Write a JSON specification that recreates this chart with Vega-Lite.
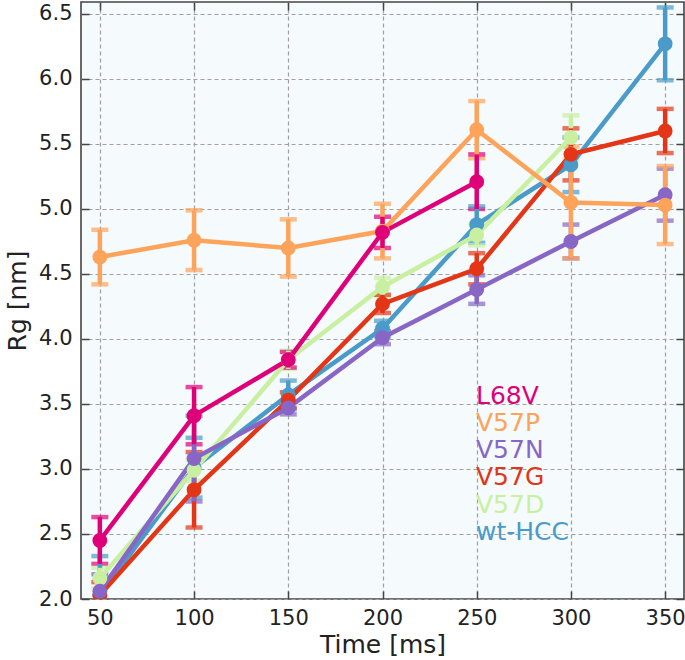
{
  "$schema": "https://vega.github.io/schema/vega-lite/v6.json",
  "description": "Radius of gyration over time for wt-HCC and five variants.",
  "width": 603,
  "height": 597,
  "autosize": {"type": "none"},
  "padding": {"left": 81, "top": 2, "right": 1, "bottom": 61},
  "background": "white",
  "data": {
    "values": [
      {"series": "wt-HCC", "time": 50, "rg": 2.03, "err": 0.30},
      {"series": "wt-HCC", "time": 100, "rg": 3.01, "err": 0.23},
      {"series": "wt-HCC", "time": 150, "rg": 3.57, "err": 0.11},
      {"series": "wt-HCC", "time": 200, "rg": 4.08, "err": 0.06},
      {"series": "wt-HCC", "time": 250, "rg": 4.88, "err": 0.14},
      {"series": "wt-HCC", "time": 300, "rg": 5.34, "err": 0.21},
      {"series": "wt-HCC", "time": 350, "rg": 6.27, "err": 0.28},
      {"series": "V57D", "time": 50, "rg": 2.16, "err": 0.08},
      {"series": "V57D", "time": 100, "rg": 2.99, "err": 0.08},
      {"series": "V57D", "time": 150, "rg": 3.84, "err": 0.07},
      {"series": "V57D", "time": 200, "rg": 4.40, "err": 0.07},
      {"series": "V57D", "time": 250, "rg": 4.80, "err": 0.08},
      {"series": "V57D", "time": 300, "rg": 5.55, "err": 0.17},
      {"series": "V57G", "time": 50, "rg": 2.03, "err": 0.10},
      {"series": "V57G", "time": 100, "rg": 2.84, "err": 0.29},
      {"series": "V57G", "time": 150, "rg": 3.53, "err": 0.06},
      {"series": "V57G", "time": 200, "rg": 4.27, "err": 0.07},
      {"series": "V57G", "time": 250, "rg": 4.54, "err": 0.12},
      {"series": "V57G", "time": 300, "rg": 5.42, "err": 0.20},
      {"series": "V57G", "time": 350, "rg": 5.60, "err": 0.17},
      {"series": "V57N", "time": 50, "rg": 2.06, "err": 0.13},
      {"series": "V57N", "time": 100, "rg": 3.08, "err": 0.33},
      {"series": "V57N", "time": 150, "rg": 3.47, "err": 0.05},
      {"series": "V57N", "time": 200, "rg": 4.01, "err": 0.05},
      {"series": "V57N", "time": 250, "rg": 4.38, "err": 0.11},
      {"series": "V57N", "time": 300, "rg": 4.75, "err": 0.13},
      {"series": "V57N", "time": 350, "rg": 5.11, "err": 0.20},
      {"series": "V57P", "time": 50, "rg": 4.63, "err": 0.21},
      {"series": "V57P", "time": 100, "rg": 4.76, "err": 0.23},
      {"series": "V57P", "time": 150, "rg": 4.70, "err": 0.22},
      {"series": "V57P", "time": 200, "rg": 4.83, "err": 0.21},
      {"series": "V57P", "time": 250, "rg": 5.61, "err": 0.22},
      {"series": "V57P", "time": 300, "rg": 5.05, "err": 0.43},
      {"series": "V57P", "time": 350, "rg": 5.03, "err": 0.30},
      {"series": "L68V", "time": 50, "rg": 2.45, "err": 0.18},
      {"series": "L68V", "time": 100, "rg": 3.41, "err": 0.22},
      {"series": "L68V", "time": 150, "rg": 3.84, "err": 0.06},
      {"series": "L68V", "time": 200, "rg": 4.82, "err": 0.12},
      {"series": "L68V", "time": 250, "rg": 5.21, "err": 0.21}
    ]
  },
  "layer": [
    {
      "mark": {
        "type": "errorbar",
        "clip": true,
        "ticks": {"size": 17, "thickness": 4.5},
        "rule": {"strokeWidth": 4.5}
      },
      "encoding": {
        "x": {
          "field": "time", "type": "quantitative",
          "scale": {"domain": [40, 360], "nice": false, "zero": false},
          "axis": {"title": "Time [ms]", "values": [50, 100, 150, 200, 250, 300, 350], "grid": true, "labelPadding": 16, "titlePadding": 4}
        },
        "y": {
          "field": "rg", "type": "quantitative",
          "scale": {"domain": [2.0, 6.592], "nice": false, "zero": false},
          "axis": {"title": "Rg [nm]", "values": [2.0, 2.5, 3.0, 3.5, 4.0, 4.5, 5.0, 5.5, 6.0, 6.5], "format": ".1f", "grid": true, "labelPadding": 17, "titlePadding": 8}
        },
        "yError": {"field": "err"},
        "color": {"field": "series", "type": "nominal"}
      }
    },
    {
      "mark": {"type": "line", "strokeWidth": 4.5, "clip": true},
      "encoding": {
        "x": {
          "field": "time", "type": "quantitative",
          "scale": {"domain": [40, 360], "nice": false, "zero": false},
          "axis": {"orient": "top", "labels": false, "title": null, "grid": false, "values": [50, 100, 150, 200, 250, 300, 350]}
        },
        "y": {
          "field": "rg", "type": "quantitative",
          "scale": {"domain": [2.0, 6.592], "nice": false, "zero": false},
          "axis": {"orient": "right", "labels": false, "title": null, "grid": false, "values": [2.0, 2.5, 3.0, 3.5, 4.0, 4.5, 5.0, 5.5, 6.0, 6.5]}
        },
        "color": {"field": "series", "type": "nominal"}
      }
    },
    {
      "mark": {"type": "point", "shape": "circle", "filled": true, "opacity": 1, "size": 220, "clip": true},
      "encoding": {
        "x": {"field": "time", "type": "quantitative", "scale": {"domain": [40, 360], "nice": false, "zero": false}, "axis": null},
        "y": {"field": "rg", "type": "quantitative", "scale": {"domain": [2.0, 6.592], "nice": false, "zero": false}, "axis": null},
        "color": {
          "field": "series", "type": "nominal",
          "scale": {
            "domain": ["L68V", "V57P", "V57N", "V57G", "V57D", "wt-HCC"],
            "range": ["#df0079", "#fda35a", "#8866c6", "#e43516", "#c8f0a0", "#4a9bc9"]
          },
          "legend": {
            "orient": "none",
            "legendX": 370,
            "legendY": 381,
            "title": null,
            "padding": 0,
            "symbolSize": 0,
            "symbolOpacity": 0,
            "symbolStrokeWidth": 0,
            "labelOffset": 0,
            "labelFont": "DejaVu Sans",
            "labelFontSize": 25,
            "labelLimit": 0,
            "rowPadding": 1.3,
            "encode": {"labels": {"update": {"fill": {"scale": "color", "field": "value"}}}}
          }
        }
      }
    }
  ],
  "resolve": {"axis": {"x": "independent", "y": "independent"}},
  "config": {
    "font": "DejaVu Sans",
    "view": {"fill": "#f5fafd", "stroke": "#444444", "strokeWidth": 1.6},
    "axis": {
      "labelFont": "DejaVu Sans",
      "labelFontSize": 21,
      "labelColor": "#222222",
      "titleFont": "DejaVu Sans",
      "titleFontSize": 25,
      "titleFontWeight": "normal",
      "titleColor": "#222222",
      "domain": false,
      "tickColor": "#444444",
      "tickSize": -8,
      "tickWidth": 1.5,
      "gridColor": "#a0a0a0",
      "gridDash": [4, 3],
      "gridWidth": 1.2,
      "gridOpacity": 1
    }
  }
}
